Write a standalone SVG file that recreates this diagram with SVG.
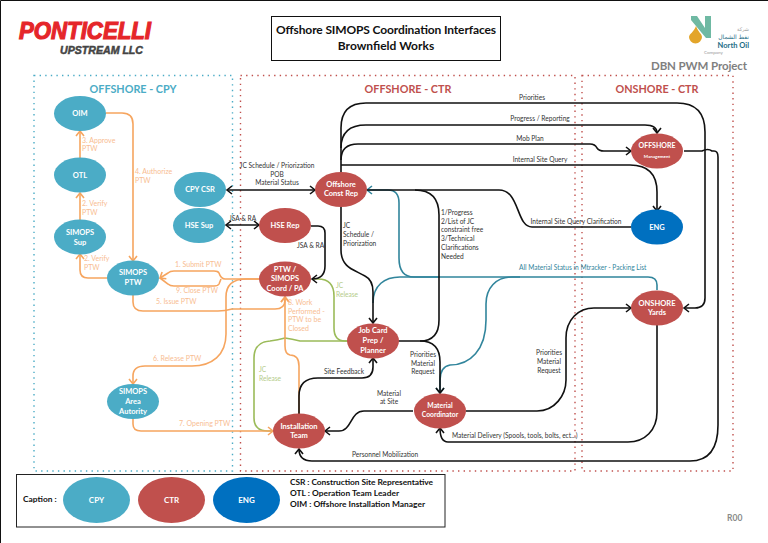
<svg xmlns="http://www.w3.org/2000/svg" width="768" height="543" viewBox="0 0 768 543">
<style>
text{font-family:"Lato","Open Sans","Liberation Sans",sans-serif}
.n{stroke:none}
.cpy{fill:#4bacc6}.ctr{fill:#c0504d}.eng{fill:#0070c0}
.nt{fill:#fff;font-weight:700;font-size:7.5px;text-anchor:middle}
.k{fill:none;stroke:#111;stroke-width:1.6}
.o{fill:none;stroke:#f6a55f;stroke-width:1.6}
.g{fill:none;stroke:#9bbb59;stroke-width:1.6}
.t{fill:none;stroke:#31859c;stroke-width:1.6}
.l{font-size:6.6px;fill:#333}
.m{text-anchor:middle}
.lo{font-size:7px;fill:#f8bd92}
.lg{font-size:6.6px;fill:#b5cc8a}
.h{font-size:10.8px;font-weight:700;text-anchor:middle}
.c{font-size:8.4px;font-weight:700;fill:#111}
.z{fill:none;stroke-width:1.4;stroke-dasharray:1.4 4.2}
</style>
<defs>
<marker id="ak" markerUnits="userSpaceOnUse" markerWidth="12" markerHeight="12" refX="8" refY="6" orient="auto-start-reverse"><path d="M3,2L8,6L3,10" fill="none" stroke="#111" stroke-width="1.6"/></marker>
<marker id="ao" markerUnits="userSpaceOnUse" markerWidth="12" markerHeight="12" refX="8" refY="6" orient="auto-start-reverse"><path d="M3,2L8,6L3,10" fill="none" stroke="#f6a55f" stroke-width="1.6"/></marker>
<marker id="at" markerUnits="userSpaceOnUse" markerWidth="12" markerHeight="12" refX="8" refY="6" orient="auto-start-reverse"><path d="M3,2L8,6L3,10" fill="none" stroke="#31859c" stroke-width="1.6"/></marker>
</defs>
<rect width="768" height="543" fill="#fff"/>
<path d="M.5,543V.5H768" fill="none" stroke="#111" stroke-width="1"/>

<g id="logos">
<text x="19" y="39" font-size="24" font-weight="700" font-style="italic" textLength="132" lengthAdjust="spacingAndGlyphs" fill="#e5262a" stroke="#e5262a" stroke-width="1.2" style="font-family:'Liberation Sans',sans-serif">PONTICELLI</text>
<text x="60" y="54" font-size="11" font-weight="700" font-style="italic" textLength="83" lengthAdjust="spacingAndGlyphs" fill="#444" stroke="#444" stroke-width=".5" style="font-family:'Liberation Sans',sans-serif">UPSTREAM LLC</text>
<path d="M691,16h6l8,12V16h6V38h-5L691,20Z" fill="#6fb9a3"/>
<path d="M696,26C698,32 702,34 702,37A6,6 0 0 1 689,37C689,34 694,32 696,26Z" fill="#e3a52a"/>
<text x="749" y="31" font-size="5" fill="#999" text-anchor="end" style="font-family:'DejaVu Sans',sans-serif">شركة</text>
<text x="749" y="39" font-size="6" fill="#1d6d86" text-anchor="end" style="font-family:'DejaVu Sans',sans-serif">نفط الشمال</text>
<text x="749" y="48" font-size="7.5" font-weight="700" fill="#1d6d86" text-anchor="end">North Oil</text>
<text x="704" y="54" font-size="4.5" fill="#999">Company</text>
<text x="651" y="70" font-size="11.5" font-weight="700" fill="#7f7f7f" textLength="96">DBN PWM Project</text>
<text x="727" y="521" font-size="8.5" font-weight="700" fill="#8a8a8a">R00</text>
</g>

<g id="title">
<rect x="271.500" y="16.500" width="229" height="44" fill="#fff" stroke="#111" stroke-width="1"/>
<text x="386" y="34" font-size="12" font-weight="700" text-anchor="middle" fill="#111" textLength="220">Offshore SIMOPS Coordination Interfaces</text>
<text x="386" y="50" font-size="12" font-weight="700" text-anchor="middle" fill="#111">Brownfield Works</text>
</g>

<g id="zones">
<path d="M34,75.500H232.500V471H34Z" class="z" stroke="#4bacc6"/>
<path d="M240.500,75.500H575V471H240.500Z" class="z" stroke="#c0504d"/>
<path d="M582,75.500H733V471H582Z" class="z" stroke="#c0504d"/>
<text x="133" y="93" class="h" fill="#4bacc6">OFFSHORE - CPY</text>
<text x="408" y="93" class="h" fill="#c0504d">OFFSHORE - CTR</text>
<text x="657" y="93" class="h" fill="#c0504d">ONSHORE - CTR</text>
</g>

<g id="connectors">
<g>
<path class="t" marker-end="url(#at)" d="M657,290V285Q657,277 648,277H414C404,277 399,270 399,258V203Q399,190 388,190H367"/>
<path class="t" d="M440,277H400C385,277 373,285 373,303"/>
<path class="t" marker-end="url(#at)" d="M520,277H512C496,277 486,288 486,304V320C486,350 470,365 450,365Q440,367 440,380V393"/>
<path class="g" d="M348,341H300Q292,339 285,338Q278,340 270,341Q254,342 254,358V418Q254,431 268,431H273"/>
<path class="g" d="M348,341H345Q334,341 334,328V296Q334,279 318,279H312"/>
<path class="o" marker-end="url(#ao)" d="M106,113H122Q133,113 133,124V261"/>
<path class="o" marker-end="url(#ao)" d="M80,158V131"/>
<path class="o" marker-end="url(#ao)" d="M80,220V193"/>
<path class="o" marker-end="url(#ao)" d="M107,278H88Q80,278 80,270V254"/>
<path class="o" marker-end="url(#ao)" d="M259,279H225Q221,279 219,273Q218,271 214,271H174Q170,271 168,273L160,278"/>
<path class="o" d="M160,278L168,284Q170,286 174,286H214Q218,286 219,284L221,279"/>
<path class="o" marker-end="url(#ao)" d="M133,295V302Q133,311 143,311H218Q225,311 232,309H275Q285,309 285,300V297"/>
<path class="o" marker-end="url(#ao)" d="M259,279H246Q226,279 226,297V334C226,355 212,366 192,366H145Q133,366 133,376V384"/>
<path class="o" marker-end="url(#ao)" d="M133,419V424Q133,431 141,431H273"/>
<path class="o" marker-end="url(#ao)" d="M299,414V366Q299,355 290,355Q285,354 285,346V297"/>
<path class="k" d="M341,172V128Q341,103 366,103H677Q705,103 705,132V298Q705,308 695,308H684" marker-end="url(#ak)"/>
<path class="k" d="M341,148Q341,125 366,125H645Q657,125 657,133" marker-end="url(#ak)"/>
<path class="k" d="M341,160Q341,144 358,144H590Q595,144 597,148Q599,151 604,151H631" marker-end="url(#ak)"/>
<path class="k" d="M341,165H630Q657,165 657,192V211" marker-end="url(#ak)"/>
<path class="k" d="M631,227H532C516,227 520,190 499,190H367"/>
<path class="k" d="M415,190Q439,190 439,215V320Q439,341 420,341H398"/>
<path class="k" d="M420,341Q440,341 440,362V393" marker-end="url(#ak)"/>
<path class="k" d="M684,151H702Q708,148 712,151H714Q718,151 718,157V425Q718,461 690,461H312Q299,461 299,449" marker-end="url(#ak)"/>
<path class="k" d="M413,411H364C350,411 352,431 339,431H325" marker-end="url(#ak)"/>
<path class="k" d="M466,411H537C555,411 566,395 566,380V338C566,320 578,308 594,308H631" marker-end="url(#ak)"/>
<path class="k" d="M657,325V412C657,430 645,442 628,442H448Q440,442 440,428" marker-end="url(#ak)"/>
<path class="k" d="M299,414V396Q299,378 318,378H362Q373,378 373,367V358" marker-end="url(#ak)"/>
<path class="k" d="M341,207V250C341,268 355,270 365,276Q373,280 373,292V323" marker-end="url(#ak)"/>
<path class="k" d="M311,226H318Q325,226 325,233V266Q325,279 312,279" marker-end="url(#ak)"/>
<path class="k" d="M227,190H315" marker-start="url(#ak)" marker-end="url(#ak)"/>
<path class="k" d="M226,225H259" marker-start="url(#ak)" marker-end="url(#ak)"/>
</g>
<g id="connector-labels">
<text class="l m" x="532" y="100">Priorities</text>
<text class="l m" x="540" y="121">Progress / Reporting</text>
<text class="l m" x="530" y="141">Mob Plan</text>
<text class="l m" x="540" y="162">Internal Site Query</text>
<text class="l m" x="576" y="224">Internal Site Query Clarification</text>
<text class="l m" x="277" y="168">JC Schedule / Priorization</text>
<text class="l m" x="277" y="177">POB</text>
<text class="l m" x="277" y="185">Material Status</text>
<text class="l" x="229" y="221">JSA &amp; RA</text>
<text class="l" x="297" y="248">JSA &amp; RA</text>
<text class="l" x="343" y="228">JC</text>
<text class="l" x="343" y="237">Schedule /</text>
<text class="l" x="343" y="246">Priorization</text>
<text class="l" x="441" y="215">1/Progress</text>
<text class="l" x="441" y="224">2/List of JC</text>
<text class="l" x="441" y="232">constraint free</text>
<text class="l" x="441" y="241">3/Technical</text>
<text class="l" x="441" y="250">Clarifications</text>
<text class="l" x="441" y="259">Needed</text>
<text x="519" y="270" font-size="6.600" fill="#31859c">All Material Status in Mtracker - Packing List</text>
<text class="l m" x="423" y="357">Priorities</text>
<text class="l m" x="423" y="366">Material</text>
<text class="l m" x="423" y="374">Request</text>
<text class="l m" x="549" y="355">Priorities</text>
<text class="l m" x="549" y="364">Material</text>
<text class="l m" x="549" y="373">Request</text>
<text class="l m" x="389" y="396">Material</text>
<text class="l m" x="389" y="404">at Site</text>
<text class="l m" x="344" y="374">Site Feedback</text>
<text class="l" x="452" y="438">Material Delivery (Spools, tools, bolts, ect...)</text>
<text class="l" x="352" y="457">Personnel Mobilization</text>
<text class="lo" x="82" y="143">3. Approve</text>
<text class="lo" x="82" y="151">PTW</text>
<text class="lo" x="135" y="174">4. Authorize</text>
<text class="lo" x="135" y="183">PTW</text>
<text class="lo" x="82" y="206">2. Verify</text>
<text class="lo" x="82" y="215">PTW</text>
<text class="lo" x="84" y="261">2. Verify</text>
<text class="lo" x="84" y="270">PTW</text>
<text class="lo" x="175" y="267">1. Submit PTW</text>
<text class="lo" x="176" y="293">9. Close  PTW</text>
<text class="lo" x="156" y="304">5. Issue PTW</text>
<text class="lo" x="153" y="361">6. Release PTW</text>
<text class="lo" x="179" y="426">7. Opening PTW</text>
<text class="lo" x="288" y="305">8. Work</text>
<text class="lo" x="288" y="314">Performed -</text>
<text class="lo" x="288" y="322">PTW to be</text>
<text class="lo" x="288" y="331">Closed</text>
<text class="lg" x="336" y="288">JC</text>
<text class="lg" x="336" y="297">Release</text>
<text class="lg" x="259" y="372">JC</text>
<text class="lg" x="259" y="381">Release</text>
</g>
</g>

<g id="n-oim"><ellipse class="n cpy" cx="80" cy="113.500" rx="26" ry="17.500"/><text class="nt" x="80" y="115.500">OIM</text></g>
<g id="n-otl"><ellipse class="n cpy" cx="80" cy="175" rx="26" ry="17.500"/><text class="nt" x="80" y="178">OTL</text></g>
<g id="n-simops-sup"><ellipse class="n cpy" cx="80" cy="237" rx="26" ry="17.500"/><text class="nt" x="80" y="235">SIMOPS</text><text class="nt" x="80" y="245">Sup</text></g>
<g id="n-simops-ptw"><ellipse class="n cpy" cx="133" cy="278" rx="26" ry="17.500"/><text class="nt" x="133" y="275">SIMOPS</text><text class="nt" x="133" y="285">PTW</text></g>
<g id="n-cpy-csr"><ellipse class="n cpy" cx="200" cy="189.500" rx="26" ry="17.500"/><text class="nt" x="200" y="192">CPY CSR</text></g>
<g id="n-hse-sup"><ellipse class="n cpy" cx="199" cy="225.500" rx="26" ry="17.500"/><text class="nt" x="199" y="228">HSE Sup</text></g>
<g id="n-area"><ellipse class="n cpy" cx="133" cy="401.500" rx="26" ry="17.500"/><text class="nt" x="133" y="394">SIMOPS</text><text class="nt" x="133" y="404">Area</text><text class="nt" x="133" y="414">Autority</text></g>
<g id="n-const-rep"><ellipse class="n ctr" cx="341" cy="189.500" rx="26" ry="17.500"/><text class="nt" x="341" y="187">Offshore</text><text class="nt" x="341" y="196">Const Rep</text></g>
<g id="n-hse-rep"><ellipse class="n ctr" cx="285" cy="225.500" rx="26" ry="17.500"/><text class="nt" x="285" y="228">HSE Rep</text></g>
<g id="n-ptw"><ellipse class="n ctr" cx="285" cy="279" rx="26" ry="17.500"/><text class="nt" x="285" y="272">PTW /</text><text class="nt" x="285" y="281">SIMOPS</text><text class="nt" x="285" y="291">Coord / PA</text></g>
<g id="n-job"><ellipse class="n ctr" cx="373" cy="341" rx="26" ry="17.500"/><text class="nt" x="373" y="333">Job Card</text><text class="nt" x="373" y="343">Prep /</text><text class="nt" x="373" y="353">Planner</text></g>
<g id="n-matco"><ellipse class="n ctr" cx="440" cy="411" rx="26" ry="17.500"/><text class="nt" x="440" y="408" style="font-size:6.8px">Material</text><text class="nt" x="440" y="417" style="font-size:6.8px">Coordinator</text></g>
<g id="n-install"><ellipse class="n ctr" cx="299" cy="431" rx="26" ry="17.500"/><text class="nt" x="299" y="429">Installation</text><text class="nt" x="299" y="438">Team</text></g>
<g id="n-mgmt"><ellipse class="n ctr" cx="657" cy="151" rx="26" ry="17.500"/><text class="nt" x="657" y="148" style="font-size:7px">OFFSHORE</text><text class="nt" x="657" y="158" style="font-size:4.500px">Management</text></g>
<g id="n-eng"><ellipse class="n eng" cx="657" cy="227" rx="26" ry="17.500"/><text class="nt" x="657" y="230">ENG</text></g>
<g id="n-yards"><ellipse class="n ctr" cx="657" cy="308" rx="26" ry="17.500"/><text class="nt" x="657" y="306">ONSHORE</text><text class="nt" x="657" y="315">Yards</text></g>

<g id="caption">
<rect x="16.500" y="474.500" width="428.500" height="52.500" fill="#fff" stroke="#222" stroke-width="1"/>
<text x="23" y="502" class="c">Caption :</text>
<ellipse class="n cpy" cx="96.500" cy="500" rx="33.500" ry="23"/><text class="nt" x="96.500" y="503" style="font-size:8px">CPY</text>
<ellipse class="n ctr" cx="171.500" cy="500" rx="33.500" ry="23"/><text class="nt" x="171.500" y="503" style="font-size:8px">CTR</text>
<ellipse class="n eng" cx="246.500" cy="500" rx="33.500" ry="23"/><text class="nt" x="246.500" y="503" style="font-size:8px">ENG</text>
<text class="c" x="290" y="485" textLength="143">CSR : Construction Site Representative</text>
<text class="c" x="290" y="496" textLength="109">OTL : Operation Team Leader</text>
<text class="c" x="290" y="507" textLength="135">OIM : Offshore Installation Manager</text>
</g>
</svg>
